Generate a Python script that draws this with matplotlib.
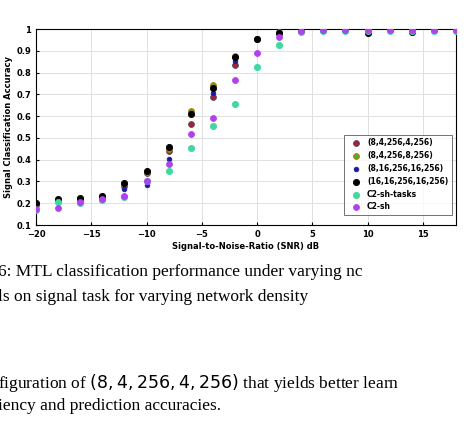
import numpy as np
import matplotlib.pyplot as plt

snr = np.arange(-20, 19, 2)
acc_a = [.19, .21, .22, .23, .28, .34, .44, .565, .69, .835, .955, .98, .99, .995, .995, .995, .995, .995, .995, .995]
acc_b = [.19, .21, .22, .235, .29, .345, .45, .625, .745, .875, .955, .985, .99, .995, .995, .995, .995, .995, .995, .995]
acc_c = [.20, .215, .22, .225, .265, .285, .405, .615, .705, .855, .955, .985, 1.0, .995, .995, .995, .995, .995, .995, .995]
acc_d = [.20, .22, .225, .235, .295, .35, .46, .61, .73, .87, .955, .98, .99, .995, .995, .98, .995, .985, .995, .995]
acc_e = [.17, .205, .20, .215, .23, .30, .35, .455, .555, .655, .825, .925, .985, .99, .99, .99, .99, .99, .99, .99]
acc_f = [.175, .18, .205, .22, .235, .30, .38, .52, .59, .765, .89, .965, .99, .995, .995, .995, .995, .995, .995, .995]

labels = ['(8,4,256,4,256)', '(8,4,256,8,256)', '(8,16,256,16,256)',
          '(16,16,256,16,256)', 'C2-sh-tasks', 'C2-sh']
colors = ['#a3203f', '#5aa81e', '#1c1aa0', '#000000', '#3ed8a0', '#b040f0']
edges = ['#555555', '#c07020', '#1c1aa0', '#000000', '#3ed8a0', '#b040f0']
sizes = [18, 18, 11, 20, 20, 18]

fig = plt.figure(figsize=(4.74, 4.38), dpi=100)
ax = fig.add_axes([36/474, 1 - 225/438, 420/474, 196/438])
for y, c, e, s, lab in zip([acc_a, acc_b, acc_c, acc_d, acc_e, acc_f], colors, edges, sizes, labels):
    ax.scatter(snr, y, s=s, color=c, edgecolors=e, linewidths=0.6, label=lab, zorder=3)

ax.set_xlim(-20, 18)
ax.set_ylim(0.1, 1)
ax.set_xticks([-20, -15, -10, -5, 0, 5, 10, 15])
ax.set_yticks(np.arange(0.1, 1.01, 0.1))
ax.set_yticklabels(['0.1', '0.2', '0.3', '0.4', '0.5', '0.6', '0.7', '0.8', '0.9', '1'])
ax.grid(True, color='#e0e0e0', linewidth=0.7)
ax.tick_params(labelsize=6, direction='in', length=2)
for lbl in ax.get_xticklabels() + ax.get_yticklabels():
    lbl.set_fontweight('bold')
ax.set_xlabel('Signal-to-Noise-Ratio (SNR) dB', fontsize=6, fontweight='bold', labelpad=2)
ax.set_ylabel('Signal Classification Accuracy', fontsize=6, fontweight='bold', labelpad=2)
leg = ax.legend(loc='lower right', prop={'weight': 'bold', 'size': 5.5},
                fancybox=False, edgecolor='#333333', handletextpad=0.5, borderpad=0.5,
                labelspacing=0.5, bbox_to_anchor=(1.0, 0.03))
leg.get_frame().set_linewidth(0.6)

serif = ['Liberation Serif', 'DejaVu Serif']
fig.text(-0.005, 1 - 272/438, '6: MTL classification performance under varying nc',
         fontsize=12.5, family=serif, va='center')
fig.text(-0.005, 1 - 297/438, 'ls on signal task for varying network density',
         fontsize=12.5, family=serif, va='center')
fig.text(-0.005, 1 - 383/438, 'figuration of $(8,4,256,4,256)$ that yields better learn',
         fontsize=12.5, family=serif, va='center')
fig.text(-0.005, 1 - 406/438, 'iency and prediction accuracies.',
         fontsize=12.5, family=serif, va='center')

fig.savefig('out.png', dpi=100)
